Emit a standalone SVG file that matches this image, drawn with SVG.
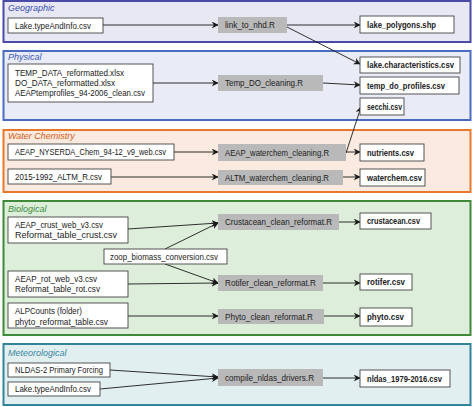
<svg xmlns="http://www.w3.org/2000/svg" width="474" height="407" viewBox="0 0 474 407">
<defs>
<marker id="ah" viewBox="0 0 10 10" refX="9" refY="5" markerWidth="7" markerHeight="7" orient="auto" markerUnits="userSpaceOnUse">
<path d="M0,0 L10,5 L0,10 L3,5 Z" fill="#1a1a1a"/>
</marker>
<style>
text{font-family:"Liberation Sans",Arial,sans-serif;font-size:9px;fill:#222}
.title{font-style:italic;font-size:9px}
.in{fill:#fff;stroke:#444;stroke-width:0.9}
.sc{fill:#b9b9b9;stroke:none}
.out{fill:#fff;stroke:#444;stroke-width:0.9}
.o{font-weight:bold;font-size:8.5px}
.c{fill:none;stroke:#1a1a1a;stroke-width:0.9;marker-end:url(#ah)}
</style>
</defs>
<rect width="474" height="407" fill="#fff"/>
<g id="panels">
<rect x="3.5" y="1" width="467" height="41" fill="#e8e8f4" stroke="#4b4ba6" stroke-width="2"/>
<text class="title" x="8" y="10.5" style="fill:#3a4fb0">Geographic</text>
<rect x="3.5" y="51" width="467" height="69" fill="#e9ecf6" stroke="#4a6cc0" stroke-width="2"/>
<text class="title" x="8" y="59.5" style="fill:#3a5ab8">Physical</text>
<rect x="3.5" y="130" width="467" height="62" fill="#fbeadf" stroke="#e8782e" stroke-width="2"/>
<text class="title" x="8" y="138.5" style="fill:#d0601a">Water Chemistry</text>
<rect x="3.5" y="201" width="467" height="134" fill="#ddefdb" stroke="#3e8a3a" stroke-width="2"/>
<text class="title" x="8" y="211.5" style="fill:#3c8c3c">Biological</text>
<rect x="3.5" y="344" width="467" height="61" fill="#e2eff1" stroke="#32849c" stroke-width="2"/>
<text class="title" x="8" y="355.5" style="fill:#3b86a0">Meteorological</text>
</g>
<g id="connectors">
<path class="c" d="M103,25 L218,25"/>
<path class="c" d="M287,25 L360,25"/>
<path class="c" d="M287,27 L360,64"/>
<path class="c" d="M153,83 L218,83"/>
<path class="c" d="M323,83 L360,85"/>
<path class="c" d="M346,153 L361,107"/>
<path class="c" d="M174,152 L218,152"/>
<path class="c" d="M346,152 L360,152"/>
<path class="c" d="M111,177 L218,177"/>
<path class="c" d="M343,177 L360,177"/>
<path class="c" d="M128,229 L218,223"/>
<path class="c" d="M165,249 L218,223"/>
<path class="c" d="M339,222 L360,222"/>
<path class="c" d="M165,264 L218,283"/>
<path class="c" d="M128,284 L218,283"/>
<path class="c" d="M323,283 L360,283"/>
<path class="c" d="M128,316 L218,316"/>
<path class="c" d="M324,316 L360,316"/>
<path class="c" d="M110,370 L218,377"/>
<path class="c" d="M100,389 L218,378"/>
<path class="c" d="M323,378 L360,378"/>
</g>
<g id="geo_in"><rect class="in" x="8" y="18" width="95" height="15"/><text x="15" y="28.8" textLength="76" lengthAdjust="spacingAndGlyphs">Lake.typeAndInfo.csv</text></g>
<g id="link_to_nhd"><rect class="sc" x="218" y="17" width="69" height="16"/><text x="225" y="28.3" textLength="50" lengthAdjust="spacingAndGlyphs">link_to_nhd.R</text></g>
<g id="lake_polygons"><rect class="out" x="360" y="16" width="94" height="17"/><text class="o" x="367" y="27.8" textLength="69" lengthAdjust="spacingAndGlyphs">lake_polygons.shp</text></g>
<g id="phys_in"><rect class="in" x="8" y="64" width="145" height="38"/>
<text x="15" y="76.3" textLength="109" lengthAdjust="spacingAndGlyphs">TEMP_DATA_reformatted.xlsx</text><text x="15" y="86.3" textLength="100" lengthAdjust="spacingAndGlyphs">DO_DATA_reformatted.xlsx</text><text x="15" y="96.3" textLength="130" lengthAdjust="spacingAndGlyphs">AEAPtemprofiles_94-2006_clean.csv</text></g>
<g id="temp_do"><rect class="sc" x="218" y="75" width="105" height="16"/><text x="225" y="86.3" textLength="78" lengthAdjust="spacingAndGlyphs">Temp_DO_cleaning.R</text></g>
<g id="lake_char"><rect class="out" x="360" y="57" width="100" height="16"/><text class="o" x="367" y="68.3" textLength="87" lengthAdjust="spacingAndGlyphs">lake.characteristics.csv</text></g>
<g id="temp_do_prof"><rect class="out" x="360" y="77" width="99" height="17"/><text class="o" x="367" y="88.8" textLength="78" lengthAdjust="spacingAndGlyphs">temp_do_profiles.csv</text></g>
<g id="secchi"><rect class="out" x="360" y="98" width="44" height="17"/><text class="o" x="367" y="109.8" textLength="35" lengthAdjust="spacingAndGlyphs">secchi.csv</text></g>
<g id="wc_in1"><rect class="in" x="8" y="144" width="166" height="16"/><text x="15" y="155.3" textLength="151" lengthAdjust="spacingAndGlyphs">AEAP_NYSERDA_Chem_94-12_v9_web.csv</text></g>
<g id="aeap_wc"><rect class="sc" x="218" y="144" width="128" height="17"/><text x="225" y="155.8" textLength="104" lengthAdjust="spacingAndGlyphs">AEAP_waterchem_cleaning.R</text></g>
<g id="nutrients"><rect class="out" x="360" y="144" width="64" height="17"/><text class="o" x="367" y="155.8" textLength="47" lengthAdjust="spacingAndGlyphs">nutrients.csv</text></g>
<g id="wc_in2"><rect class="in" x="8" y="169" width="103" height="15"/><text x="15" y="179.8" textLength="87" lengthAdjust="spacingAndGlyphs">2015-1992_ALTM_R.csv</text></g>
<g id="altm_wc"><rect class="sc" x="218" y="170" width="125" height="15"/><text x="225" y="180.8" textLength="104" lengthAdjust="spacingAndGlyphs">ALTM_waterchem_cleaning.R</text></g>
<g id="waterchem"><rect class="out" x="360" y="169" width="65" height="17"/><text class="o" x="367" y="180.8" textLength="55" lengthAdjust="spacingAndGlyphs">waterchem.csv</text></g>
<g id="crust_in"><rect class="in" x="8" y="217" width="120" height="26"/><text x="15" y="228.3" textLength="88" lengthAdjust="spacingAndGlyphs">AEAP_crust_web_v3.csv</text><text x="15" y="238.3" textLength="102" lengthAdjust="spacingAndGlyphs">Reformat_table_crust.csv</text></g>
<g id="zoop"><rect class="in" x="104" y="249" width="123" height="15"/><text x="110" y="259.8" textLength="108" lengthAdjust="spacingAndGlyphs">zoop_biomass_conversion.csv</text></g>
<g id="crust_r"><rect class="sc" x="218" y="214" width="121" height="16"/><text x="225" y="225.3" textLength="107" lengthAdjust="spacingAndGlyphs">Crustacean_clean_reformat.R</text></g>
<g id="crustacean"><rect class="out" x="360" y="213" width="71" height="16"/><text class="o" x="367" y="224.3" textLength="53" lengthAdjust="spacingAndGlyphs">crustacean.csv</text></g>
<g id="rot_in"><rect class="in" x="8" y="271" width="120" height="26"/><text x="15" y="282.3" textLength="82" lengthAdjust="spacingAndGlyphs">AEAP_rot_web_v3.csv</text><text x="15" y="292.3" textLength="85" lengthAdjust="spacingAndGlyphs">Reformat_table_rot.csv</text></g>
<g id="rot_r"><rect class="sc" x="218" y="275" width="105" height="16"/><text x="225" y="286.3" textLength="91" lengthAdjust="spacingAndGlyphs">Rotifer_clean_reformat.R</text></g>
<g id="rotifer"><rect class="out" x="360" y="274" width="52" height="16"/><text class="o" x="367" y="285.3" textLength="38" lengthAdjust="spacingAndGlyphs">rotifer.csv</text></g>
<g id="phyto_in"><rect class="in" x="8" y="303" width="120" height="25"/><text x="15" y="314.3" textLength="67" lengthAdjust="spacingAndGlyphs">ALPCounts (folder)</text><text x="15" y="325.3" textLength="93" lengthAdjust="spacingAndGlyphs">phyto_reformat_table.csv</text></g>
<g id="phyto_r"><rect class="sc" x="218" y="309" width="106" height="15"/><text x="225" y="319.8" textLength="88" lengthAdjust="spacingAndGlyphs">Phyto_clean_reformat.R</text></g>
<g id="phyto"><rect class="out" x="360" y="308" width="52" height="18"/><text class="o" x="367" y="320.3" textLength="37" lengthAdjust="spacingAndGlyphs">phyto.csv</text></g>
<g id="met_in1"><rect class="in" x="8" y="363" width="102" height="14"/><text x="15" y="373.3" textLength="88" lengthAdjust="spacingAndGlyphs">NLDAS-2 Primary Forcing</text></g>
<g id="met_in2"><rect class="in" x="8" y="382" width="92" height="14"/><text x="15" y="392.3" textLength="76" lengthAdjust="spacingAndGlyphs">Lake.typeAndInfo.csv</text></g>
<g id="compile"><rect class="sc" x="218" y="369" width="105" height="17"/><text x="225" y="380.8" textLength="89" lengthAdjust="spacingAndGlyphs">compile_nldas_drivers.R</text></g>
<g id="nldas"><rect class="out" x="360" y="370" width="90" height="17"/><text class="o" x="367" y="381.8" textLength="75" lengthAdjust="spacingAndGlyphs">nldas_1979-2016.csv</text></g>
</svg>
